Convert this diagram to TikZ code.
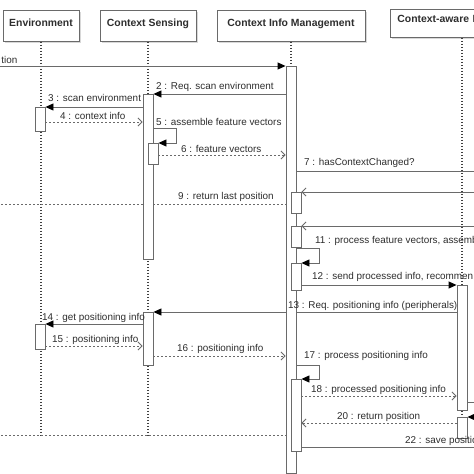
\documentclass[tikz,border=0pt]{standalone}
\usepackage{fontspec}
\setmainfont{Liberation Sans}
\usetikzlibrary{arrows.meta,shadows}
\definecolor{ln}{HTML}{6A6A6A}
\definecolor{tx}{HTML}{2E2E2E}
\definecolor{lf}{HTML}{404040}
\begin{document}
\begin{tikzpicture}[x=1pt,y=-1pt,
  head/.style={draw=ln, fill=white, line width=0.9pt,
    font=\fontsize{10.4}{12}\selectfont\bfseries, text=tx,
    inner xsep=0pt, inner ysep=3pt, text height=13pt, text depth=12pt,
    drop shadow={shadow xshift=1.5pt, shadow yshift=-1.5pt, fill=black!30, opacity=0.5}},
  act/.style={draw=ln, fill=white, line width=0.9pt, minimum width=10pt,
    inner sep=0pt, anchor=north},
  life/.style={draw=lf, line width=1.1pt, dash pattern=on 1.3pt off 1.7pt},
  plainmsg/.style={draw=ln, line width=0.9pt},
  msg/.style={draw=ln, line width=0.9pt,
    -{Triangle[length=8pt,width=7pt,color=black,fill=black]}},
  solopen/.style={draw=ln, line width=0.9pt,
    -{Straight Barb[length=4pt,width=8pt,line width=0.8pt]}},
  ret/.style={draw=ln, line width=0.9pt, dash pattern=on 2pt off 2pt,
    -{Straight Barb[length=4pt,width=8pt,line width=0.8pt]}},
  dotmsg/.style={draw=ln, line width=0.9pt, dash pattern=on 2pt off 2pt},
  lbl/.style={font=\fontsize{9.9}{11}\selectfont, text=tx, inner sep=0pt, anchor=base west}
]
\useasboundingbox (0,0) rectangle (474,474);
\clip (0,0) rectangle (474,474);
\fill[white] (0,0) rectangle (474,474);

% headers
\node[head, minimum width=76pt, anchor=north] (envH) at (41,10) {Environment};
\node[head, minimum width=96pt, anchor=north] (csH) at (148,10) {Context Sensing};
\node[head, minimum width=148pt, anchor=north] (cimH) at (291,10) {Context Info Management};
\node[head, anchor=north west, text width=143pt, inner xsep=7pt, align=left,
      text height=10pt] (caH) at (390,9) {Context-aware I};

% end points
\coordinate (envEnd) at (41,435);
\coordinate (csEnd) at (148,435);
\coordinate (L1) at (-5,66);
\coordinate (R7) at (480,171);
\coordinate (R8) at (480,192);
\coordinate (L9) at (-5,204);
\coordinate (R10) at (480,226);
\coordinate (R19a) at (480,402);
\coordinate (R19) at (480,417);
\coordinate (L21) at (-5,435);
\coordinate (R22) at (480,447);

% activation geometry (nodes)
\node[act, minimum height=24pt] (envA1) at (40,107) {};
\node[act, minimum height=25pt] (envA2) at (40,324) {};
\node[act, minimum height=165pt] (csA1) at (148,94) {};
\node[act, minimum height=21pt] (csA1n) at (153,143) {};
\node[act, minimum height=53pt] (csA2) at (148,312) {};
\node[act, minimum height=407pt] (cimA) at (291,66) {};
\node[act, minimum height=21pt] (cimN1) at (296,192) {};
\node[act, minimum height=21pt] (cimN2) at (296,226) {};
\node[act, minimum height=27pt] (cimN3) at (296,263) {};
\node[act, minimum height=72pt] (cimN4) at (296,379) {};
\node[act, minimum height=125pt] (caA1) at (462,285) {};
\node[act, minimum height=21pt] (caA2) at (462,417) {};

% lifelines
\begin{scope}[on background layer/.style={}]
\end{scope}
\draw[life] (envH.south) -- (envEnd);
\draw[life] (csH.south) -- (csEnd);
\draw[life] (cimH.south) -- (cimA.north);
\draw[life] (caH.south -| caA1.north) -- (caA1.north);
\draw[life] (caA1.south) -- (caA2.north);

% messages
\draw[msg] (L1) -- (cimA.west |- L1);
\draw[msg] (cimA.west |- 0,94) -- (csA1.east |- 0,94);
\draw[msg] (csA1.west |- 0,107) -- (envA1.east |- 0,107);
\draw[ret] (envA1.east |- 0,122) -- (csA1.west |- 0,122);
\draw[msg] (csA1.east |- 0,128) -- (176,128) -- (176,143) -- (csA1n.east |- 0,143);
\draw[ret] (csA1n.east |- 0,155) -- (cimA.west |- 0,155);
\draw[plainmsg] (cimA.east |- R7) -- (R7);
\draw[solopen] (R8) -- (cimN1.east |- R8);
\draw[dotmsg] (cimN1.west |- L9) -- (L9);
\draw[solopen] (R10) -- (cimN2.east |- R10);
\draw[msg] (cimA.east |- 0,248) -- (319,248) -- (319,263) -- (cimN3.east |- 0,263);
\draw[msg] (cimN3.east |- 0,285) -- (caA1.west |- 0,285);
\draw[msg] (caA1.west |- 0,312) -- (csA2.east |- 0,312);
\draw[msg] (csA2.west |- 0,324) -- (envA2.east |- 0,324);
\draw[ret] (envA2.east |- 0,346) -- (csA2.west |- 0,346);
\draw[ret] (csA2.east |- 0,356) -- (cimA.west |- 0,356);
\draw[msg] (cimA.east |- 0,365) -- (319,365) -- (319,379) -- (cimN4.east |- 0,379);
\draw[ret] (cimN4.east |- 0,396) -- (caA1.west |- 0,396);
\draw[plainmsg] (caA1.east |- R19a) -- (R19a);
\draw[msg] (R19) -- (caA2.east |- R19);
\draw[ret] (caA2.west |- 0,423) -- (cimN4.east |- 0,423);
\draw[dotmsg] (cimN4.west |- L21) -- (L21);
\draw[plainmsg] (cimN4.east |- R22) -- (R22);

% activations drawn on top
\foreach \a/\y/\h in {40/107/24, 40/324/25, 148/94/165, 153/143/21, 148/312/53,
   291/66/407, 296/192/21, 296/226/21, 296/263/27, 296/379/72, 462/285/125, 462/417/21}
  \draw[draw=ln, fill=white, line width=0.9pt] (\a-5,\y) rectangle (\a+5,\y+\h);

% labels
\node[lbl, anchor=base east] (t1) at (17.5,63) {tion};
\node[lbl] (t2) at (156,89) {2 : Req. scan environment};
\node[lbl] (t3) at (48,101) {3 : scan environment};
\node[lbl] (t4) at (60,119) {4 : context info};
\node[lbl] (t5) at (156,125) {5 : assemble feature vectors};
\node[lbl] (t6) at (181,152) {6 : feature vectors};
\node[lbl] (t7) at (304,165) {7 : hasContextChanged?};
\node[lbl] (t9) at (178,199) {9 : return last position};
\node[lbl] (t11) at (315,243) {11 : process feature vectors, assemble};
\node[lbl] (t12) at (312,279) {12 : send processed info, recommen};
\node[lbl] (t13) at (288,308) {13 : Req. positioning info (peripherals)};
\node[lbl] (t14) at (42,320) {14 : get positioning info};
\node[lbl] (t15) at (52,342) {15 : positioning info};
\node[lbl] (t16) at (177,351) {16 : positioning info};
\node[lbl] (t17) at (304,358) {17 : process positioning info};
\node[lbl] (t18) at (311,392) {18 : processed positioning info};
\node[lbl] (t20) at (337,419) {20 : return position};
\node[lbl] (t22) at (405,443) {22 : save position};
\end{tikzpicture}
\end{document}
